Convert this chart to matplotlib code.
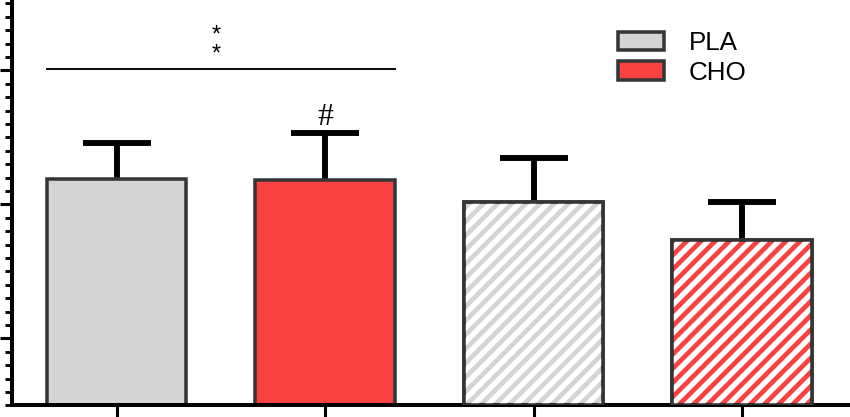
import numpy as np
import matplotlib
matplotlib.use("Agg")
import matplotlib.pyplot as plt

# data (no tick labels are visible, units are arbitrary)
groups = ["PLA", "CHO", "PLA", "CHO"]
means = [16.9, 16.85, 15.2, 12.35]
sem = [2.7, 3.5, 3.3, 2.85]
legend_labels = ["PLA", "CHO"]

face_colors = ["#d4d4d4", "#fa4141", "#d4d4d4", "#fa4141"]
hatched = [False, False, True, True]
edge_color = "#353535"

DPI = 85
W, H = 850, 417

plt.rcParams["font.family"] = ["Liberation Sans", "DejaVu Sans"]
plt.rcParams["hatch.linewidth"] = 4.5

fig = plt.figure(figsize=(W / DPI, 4.906), dpi=DPI)

# axes placed so the spines sit where the reference has them
left_px, bottom_px = 12, 405.5
ax = fig.add_axes([left_px / W, (H - bottom_px) / H, 1 - left_px / W, bottom_px / H])

x = np.arange(len(means))
width = 0.67

# error bars first (behind the bars), upper side only
eb = ax.errorbar(x, means, yerr=[np.zeros(len(sem)), sem], fmt="none",
                 ecolor="black", elinewidth=5, capsize=29, capthick=5, zorder=1)
eb[1][0].set_visible(False)  # hide the lower caps

bars = ax.bar(x, means, width, color=face_colors, edgecolor=edge_color,
              linewidth=3, zorder=2)

# white stripes on the hatched bars, then the outline again on top
hx = x[np.array(hatched)]
hm = np.array(means)[np.array(hatched)]
ax.bar(hx, hm, width, fill=False, hatch="//", edgecolor="white", linewidth=0, zorder=3)
ax.bar(hx, hm, width, fill=False, edgecolor=edge_color, linewidth=3, zorder=4)

# significance bracket between the first two bars
ax.plot([x[0] - width / 2, x[1] + width / 2], [25.1, 25.1], color="black", lw=1.6)
ax.text(0.48, 25.73, "*\n*", ha="center", va="baseline", fontsize=20,
        linespacing=0.82)
ax.text(x[1], 20.95, "#", ha="center", va="baseline", fontsize=27,
        family=["Liberation Serif", "DejaVu Serif"])

# axis limits chosen so 1 unit = 13.4 px, like the reference
ax.set_ylim(0, bottom_px / 13.4)
ax.set_xlim((left_px - 116.5) / 208.5, (W - 116.5) / 208.5)

ax.set_yticks([5, 15, 25])
ax.set_yticks(np.arange(0, 31, 1), minor=True)
ax.set_xticks(x)
ax.tick_params(axis="y", which="major", length=10, width=2.6, labelleft=False)
ax.tick_params(axis="y", which="minor", length=6, width=2.4)
ax.tick_params(axis="x", which="major", length=12, width=2.6, labelbottom=False)

for side in ["top", "right"]:
    ax.spines[side].set_visible(False)
for side in ["left", "bottom"]:
    ax.spines[side].set_linewidth(3.4)
    ax.spines[side].set_color("black")

ax.legend([bars[0], bars[1]], legend_labels, loc="upper left",
          bbox_to_anchor=(618 / W, 1 - 31 / H), bbox_transform=fig.transFigure,
          frameon=False, fontsize=22, borderpad=0, borderaxespad=0,
          handlelength=1.77, handleheight=0.72, handletextpad=0.95,
          labelspacing=0.22)

fig.savefig("out.png", dpi=DPI)
